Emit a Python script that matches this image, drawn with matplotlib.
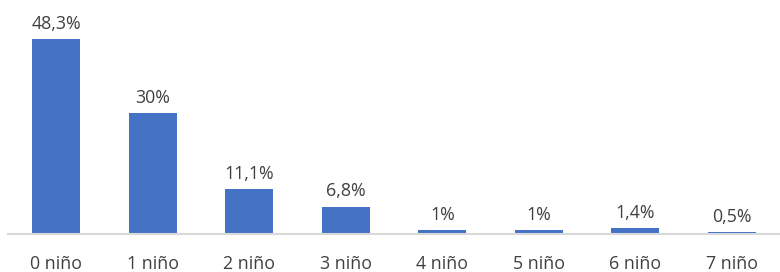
import matplotlib.pyplot as plt
import numpy as np

labels = ['0 niño', '1 niño', '2 niño', '3 niño', '4 niño', '5 niño', '6 niño', '7 niño']
values = [48.3, 30, 11.1, 6.8, 1, 1, 1.4, 0.5]
value_labels = ['48,3%', '30%', '11,1%', '6,8%', '1%', '1%', '1,4%', '0,5%']

plt.rcParams['font.family'] = ['Open Sans', 'DejaVu Sans']

fig = plt.figure(figsize=(7.8, 2.72), dpi=100)
ax = fig.add_axes([8 / 780, 38 / 272, 772 / 780, 234 / 272])

x = np.arange(len(labels))
bars = ax.bar(x, values, width=0.5, color='#4472C4')

# Etiquetas encima de las barras
for b, txt in zip(bars, value_labels):
    ax.annotate(txt, (b.get_x() + b.get_width() / 2, b.get_height()),
                xytext=(0, 4.5), textcoords='offset points',
                ha='center', va='bottom', fontsize=12.8, color='#404040')

ax.set_xlim(-0.5, len(labels) - 0.5)
ax.set_ylim(0, 58)
ax.set_xticks(x)
ax.set_xticklabels(labels, fontsize=12.8, color='#404040')
ax.tick_params(axis='x', length=0, pad=15)
ax.set_yticks([])

for s in ['top', 'right', 'left']:
    ax.spines[s].set_visible(False)
ax.spines['bottom'].set_color('#D9D9D9')
ax.spines['bottom'].set_linewidth(1.5)

fig.savefig('out.png', dpi=100)
